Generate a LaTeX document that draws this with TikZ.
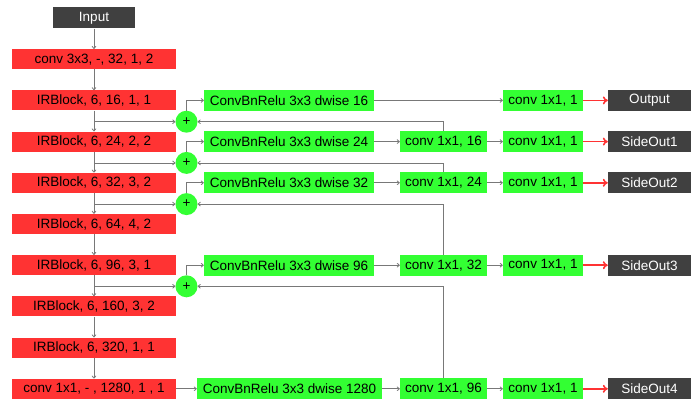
\documentclass[tikz,border=0pt]{standalone}
\usepackage{fontspec}
\setmainfont{Liberation Sans}
\usetikzlibrary{arrows.meta}
\definecolor{boxred}{RGB}{255,51,51}
\definecolor{boxgreen}{RGB}{51,255,51}
\definecolor{boxdark}{RGB}{64,64,64}
\definecolor{linegray}{RGB}{120,120,120}
\begin{document}
\begin{tikzpicture}[x=1pt,y=-1pt,
  font=\fontsize{13.5}{16}\selectfont,
  redbox/.style={fill=boxred,text=black,minimum width=164pt,minimum height=20pt,inner sep=0pt},
  greenbox/.style={fill=boxgreen,text=black,minimum height=21pt,inner sep=0pt},
  darkbox/.style={fill=boxdark,text=white,minimum height=21pt,inner sep=0pt},
  plusnode/.style={circle,fill=boxgreen,minimum size=22pt,inner sep=0pt},
  conn/.style={draw=linegray,line width=0.8pt,-{To[length=3pt,width=4.5pt]}},
  redarrow/.style={draw=boxred,line width=1.6pt,-{To[length=5pt,width=8pt]}}
]
\useasboundingbox (0,0) rectangle (700,409);
% left column
\node[darkbox,minimum width=82pt] (in) at (94,18) {Input};
\node[redbox] (c0) at (94,59.2) {conv 3x3, -, 32, 1, 2};
\node[redbox] (r1) at (94,100.4) {IRBlock, 6, 16, 1, 1};
\node[redbox] (r2) at (94,141.6) {IRBlock, 6, 24, 2, 2};
\node[redbox] (r3) at (94,182.8) {IRBlock, 6, 32, 3, 2};
\node[redbox] (r4) at (94,224) {IRBlock, 6, 64, 4, 2};
\node[redbox] (r5) at (94,265.2) {IRBlock, 6, 96, 3, 1};
\node[redbox] (r6) at (94,306.4) {IRBlock, 6, 160, 3, 2};
\node[redbox] (r7) at (94,347.6) {IRBlock, 6, 320, 1, 1};
\node[redbox] (r8) at (94,388.8) {conv 1x1, - , 1280, 1 , 1};
% plus nodes
\node[plusnode] (p1) at (186.5,121.7) {+};
\node[plusnode] (p2) at (186.5,162.9) {+};
\node[plusnode] (p3) at (186.5,204.1) {+};
\node[plusnode] (p4) at (186.5,286.3) {+};
% ConvBnRelu column
\node[greenbox,minimum width=170pt] (b1) at (289,100.4) {ConvBnRelu 3x3 dwise 16};
\node[greenbox,minimum width=170pt] (b2) at (289,141.6) {ConvBnRelu 3x3 dwise 24};
\node[greenbox,minimum width=170pt] (b3) at (289,182.8) {ConvBnRelu 3x3 dwise 32};
\node[greenbox,minimum width=170pt] (b4) at (289,265.2) {ConvBnRelu 3x3 dwise 96};
\node[greenbox,minimum width=185pt] (b5) at (289.5,388.8) {ConvBnRelu 3x3 dwise 1280};
% conv 1x1, N column
\node[greenbox,minimum width=87pt] (k2) at (443.5,141.6) {conv 1x1, 16};
\node[greenbox,minimum width=87pt] (k3) at (443.5,182.8) {conv 1x1, 24};
\node[greenbox,minimum width=87pt] (k4) at (443.5,265.2) {conv 1x1, 32};
\node[greenbox,minimum width=87pt] (k5) at (443.5,388.8) {conv 1x1, 96};
% conv 1x1, 1 column
\node[greenbox,minimum width=80pt] (o1) at (543,100.4) {conv 1x1, 1};
\node[greenbox,minimum width=80pt] (o2) at (543,141.6) {conv 1x1, 1};
\node[greenbox,minimum width=80pt] (o3) at (543,182.8) {conv 1x1, 1};
\node[greenbox,minimum width=80pt] (o4) at (543,265.2) {conv 1x1, 1};
\node[greenbox,minimum width=80pt] (o5) at (543,388.8) {conv 1x1, 1};
% outputs
\node[darkbox,minimum width=83pt] (t1) at (649.5,100.4) {Output};
\node[darkbox,minimum width=83pt] (t2) at (649.5,141.6) {SideOut1};
\node[darkbox,minimum width=83pt] (t3) at (649.5,182.8) {SideOut2};
\node[darkbox,minimum width=83pt] (t4) at (649.5,265.2) {SideOut3};
\node[darkbox,minimum width=83pt] (t5) at (649.5,388.8) {SideOut4};
% main vertical chain
\draw[conn] (in) -- (c0);
\draw[conn] (c0) -- (r1);
\draw[conn] (r1) -- (r2);
\draw[conn] (r2) -- (r3);
\draw[conn] (r3) -- (r4);
\draw[conn] (r4) -- (r5);
\draw[conn] (r5) -- (r6);
\draw[conn] (r6) -- (r7);
\draw[conn] (r7) -- (r8);
% branches to plus nodes
\draw[conn] (r1.south |- p1) -- (p1);
\draw[conn] (r2.south |- p2) -- (p2);
\draw[conn] (r3.south |- p3) -- (p3);
\draw[conn] (r5.south |- p4) -- (p4);
% plus to ConvBnRelu
\draw[conn] (p1.north) |- (b1.west);
\draw[conn] (p2.north) |- (b2.west);
\draw[conn] (p3.north) |- (b3.west);
\draw[conn] (p4.north) |- (b4.west);
% feedback from conv 1x1, N to plus
\draw[conn] (k2.north) |- (p1.east);
\draw[conn] (k3.north) |- (p2.east);
\draw[conn] (k4.north) |- (p3.east);
\draw[conn] (k5.north) |- (p4.east);
% rows
\draw[conn] (r8) -- (b5);
\draw[conn] (b1) -- (o1);
\draw[conn] (b2) -- (k2);
\draw[conn] (b3) -- (k3);
\draw[conn] (b4) -- (k4);
\draw[conn] (b5) -- (k5);
\draw[conn] (k2) -- (o2);
\draw[conn] (k3) -- (o3);
\draw[conn] (k4) -- (o4);
\draw[conn] (k5) -- (o5);
% red output arrows
\draw[redarrow] (o1) -- (t1);
\draw[redarrow] (o2) -- (t2);
\draw[redarrow] (o3) -- (t3);
\draw[redarrow] (o4) -- (t4);
\draw[redarrow] (o5) -- (t5);
\end{tikzpicture}
\end{document}
